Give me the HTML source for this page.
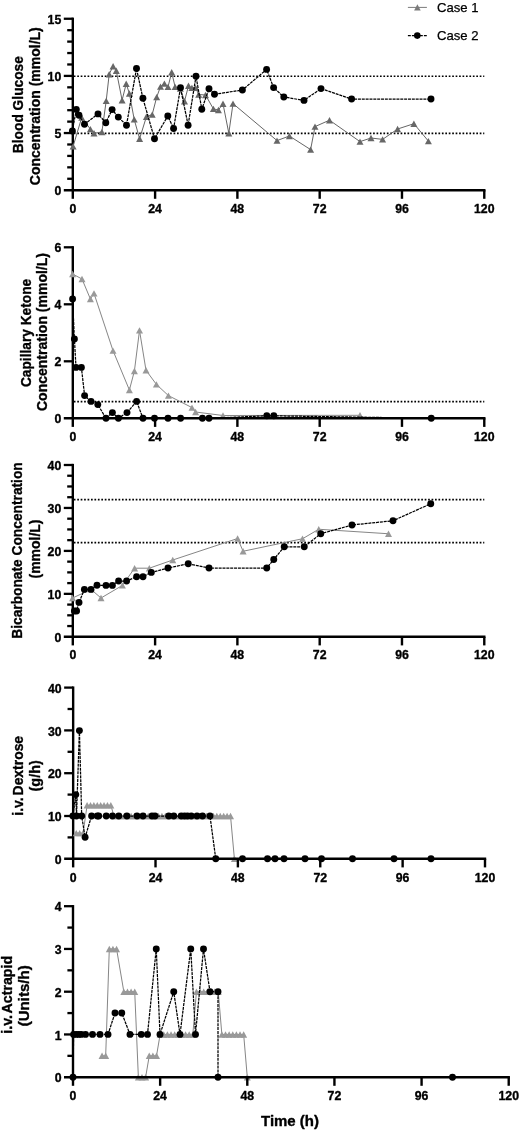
<!DOCTYPE html>
<html lang="en">
<head>
<meta charset="utf-8">
<title>Figure</title>
<style>
html,body{margin:0;padding:0;background:#fff;}
body{width:520px;height:1131px;overflow:hidden;}
svg{display:block;}
svg text{font-family:"Liberation Sans", sans-serif;fill:#000;}
svg text.b{stroke:#000;stroke-width:0.35px;stroke-linejoin:round;}
</style>
</head>
<body>
<svg width="520" height="1131" viewBox="0 0 520 1131">
<rect width="520" height="1131" fill="#fff"/>
<g>
<line x1="73.8" y1="76.25" x2="484.28" y2="76.25" stroke="#000" stroke-width="1.7" stroke-dasharray="1.7 1.74" fill="none"/>
<line x1="73.8" y1="133.4" x2="484.28" y2="133.4" stroke="#000" stroke-width="1.7" stroke-dasharray="1.7 1.74" fill="none"/>
<line x1="72.8" y1="17.6" x2="72.8" y2="190.2" stroke="#000" stroke-width="2.4"/><text x="61.3" y="195.35" text-anchor="end" font-size="12.3" class="b" font-weight="700">0</text><line x1="63.8" y1="133.05" x2="72.8" y2="133.05" stroke="#000" stroke-width="2.3"/><text x="61.3" y="138.2" text-anchor="end" font-size="12.3" class="b" font-weight="700">5</text><line x1="63.8" y1="75.9" x2="72.8" y2="75.9" stroke="#000" stroke-width="2.3"/><text x="61.3" y="81.05" text-anchor="end" font-size="12.3" class="b" font-weight="700">10</text><line x1="63.8" y1="18.75" x2="72.8" y2="18.75" stroke="#000" stroke-width="2.3"/><text x="61.3" y="23.9" text-anchor="end" font-size="12.3" class="b" font-weight="700">15</text><line x1="67.2" y1="178.77" x2="72.8" y2="178.77" stroke="#000" stroke-width="2.3"/><line x1="67.2" y1="167.34" x2="72.8" y2="167.34" stroke="#000" stroke-width="2.3"/><line x1="67.2" y1="155.91" x2="72.8" y2="155.91" stroke="#000" stroke-width="2.3"/><line x1="67.2" y1="144.48" x2="72.8" y2="144.48" stroke="#000" stroke-width="2.3"/><line x1="67.2" y1="121.62" x2="72.8" y2="121.62" stroke="#000" stroke-width="2.3"/><line x1="67.2" y1="110.19" x2="72.8" y2="110.19" stroke="#000" stroke-width="2.3"/><line x1="67.2" y1="98.76" x2="72.8" y2="98.76" stroke="#000" stroke-width="2.3"/><line x1="67.2" y1="87.33" x2="72.8" y2="87.33" stroke="#000" stroke-width="2.3"/><line x1="67.2" y1="64.47" x2="72.8" y2="64.47" stroke="#000" stroke-width="2.3"/><line x1="67.2" y1="53.04" x2="72.8" y2="53.04" stroke="#000" stroke-width="2.3"/><line x1="67.2" y1="41.61" x2="72.8" y2="41.61" stroke="#000" stroke-width="2.3"/><line x1="67.2" y1="30.18" x2="72.8" y2="30.18" stroke="#000" stroke-width="2.3"/>
<polyline points="73.1,146.4 81.7,117.6 90.4,129.1 94,133.3 101.9,132 106.2,100.9 109.2,74.2 113.1,66.2 116.3,70.8 122.1,100.2 126.2,83.8 129.4,93.5 134.2,119.4 139.6,138.7 146.4,116.8 152.2,114.6 156.7,97.1 160.5,86.6 164.4,83.6 168,86.9 171.7,72.3 175.1,86.9 180.3,88.5 184.5,101.2 188.5,85.8 191.9,87.9 195.7,87.9 198.7,94.5 205.5,95 213.4,108.9 218.4,110 223,103.8 228.8,133.2 233,103.6 277,140.6 289.4,136 310.6,149.6 315,126.6 329.5,120.2 360,141.6 371,138 382.6,139.4 397.6,129 413.9,123.7 428.4,141.1" fill="none" stroke="#666" stroke-width="1.0" stroke-linejoin="round"/><path d="M73.1 143.2L76.6 149.6L69.6 149.6Z" fill="#676767"/><path d="M81.7 114.4L85.2 120.8L78.2 120.8Z" fill="#676767"/><path d="M90.4 125.9L93.9 132.3L86.9 132.3Z" fill="#676767"/><path d="M94 130.1L97.5 136.5L90.5 136.5Z" fill="#676767"/><path d="M101.9 128.8L105.4 135.2L98.4 135.2Z" fill="#676767"/><path d="M106.2 97.7L109.7 104.1L102.7 104.1Z" fill="#676767"/><path d="M109.2 71L112.7 77.4L105.7 77.4Z" fill="#676767"/><path d="M113.1 63L116.6 69.4L109.6 69.4Z" fill="#676767"/><path d="M116.3 67.6L119.8 74L112.8 74Z" fill="#676767"/><path d="M122.1 97L125.6 103.4L118.6 103.4Z" fill="#676767"/><path d="M126.2 80.6L129.7 87L122.7 87Z" fill="#676767"/><path d="M129.4 90.3L132.9 96.7L125.9 96.7Z" fill="#676767"/><path d="M134.2 116.2L137.7 122.6L130.7 122.6Z" fill="#676767"/><path d="M139.6 135.5L143.1 141.9L136.1 141.9Z" fill="#676767"/><path d="M146.4 113.6L149.9 120L142.9 120Z" fill="#676767"/><path d="M152.2 111.4L155.7 117.8L148.7 117.8Z" fill="#676767"/><path d="M156.7 93.9L160.2 100.3L153.2 100.3Z" fill="#676767"/><path d="M160.5 83.4L164 89.8L157 89.8Z" fill="#676767"/><path d="M164.4 80.4L167.9 86.8L160.9 86.8Z" fill="#676767"/><path d="M168 83.7L171.5 90.1L164.5 90.1Z" fill="#676767"/><path d="M171.7 69.1L175.2 75.5L168.2 75.5Z" fill="#676767"/><path d="M175.1 83.7L178.6 90.1L171.6 90.1Z" fill="#676767"/><path d="M180.3 85.3L183.8 91.7L176.8 91.7Z" fill="#676767"/><path d="M184.5 98L188 104.4L181 104.4Z" fill="#676767"/><path d="M188.5 82.6L192 89L185 89Z" fill="#676767"/><path d="M191.9 84.7L195.4 91.1L188.4 91.1Z" fill="#676767"/><path d="M195.7 84.7L199.2 91.1L192.2 91.1Z" fill="#676767"/><path d="M198.7 91.3L202.2 97.7L195.2 97.7Z" fill="#676767"/><path d="M205.5 91.8L209 98.2L202 98.2Z" fill="#676767"/><path d="M213.4 105.7L216.9 112.1L209.9 112.1Z" fill="#676767"/><path d="M218.4 106.8L221.9 113.2L214.9 113.2Z" fill="#676767"/><path d="M223 100.6L226.5 107L219.5 107Z" fill="#676767"/><path d="M228.8 130L232.3 136.4L225.3 136.4Z" fill="#676767"/><path d="M233 100.4L236.5 106.8L229.5 106.8Z" fill="#676767"/><path d="M277 137.4L280.5 143.8L273.5 143.8Z" fill="#676767"/><path d="M289.4 132.8L292.9 139.2L285.9 139.2Z" fill="#676767"/><path d="M310.6 146.4L314.1 152.8L307.1 152.8Z" fill="#676767"/><path d="M315 123.4L318.5 129.8L311.5 129.8Z" fill="#676767"/><path d="M329.5 117L333 123.4L326 123.4Z" fill="#676767"/><path d="M360 138.4L363.5 144.8L356.5 144.8Z" fill="#676767"/><path d="M371 134.8L374.5 141.2L367.5 141.2Z" fill="#676767"/><path d="M382.6 136.2L386.1 142.6L379.1 142.6Z" fill="#676767"/><path d="M397.6 125.8L401.1 132.2L394.1 132.2Z" fill="#676767"/><path d="M413.9 120.5L417.4 126.9L410.4 126.9Z" fill="#676767"/><path d="M428.4 137.9L431.9 144.3L424.9 144.3Z" fill="#676767"/>
<line x1="63.8" y1="190.2" x2="485.48" y2="190.2" stroke="#000" stroke-width="2.4"/><line x1="72.8" y1="190.2" x2="72.8" y2="198.8" stroke="#000" stroke-width="2.4"/><text x="72.8" y="213.2" text-anchor="middle" font-size="12.3" class="b" font-weight="700">0</text><line x1="155.1" y1="190.2" x2="155.1" y2="198.8" stroke="#000" stroke-width="2.4"/><text x="155.1" y="213.2" text-anchor="middle" font-size="12.3" class="b" font-weight="700">24</text><line x1="237.39" y1="190.2" x2="237.39" y2="198.8" stroke="#000" stroke-width="2.4"/><text x="237.39" y="213.2" text-anchor="middle" font-size="12.3" class="b" font-weight="700">48</text><line x1="319.69" y1="190.2" x2="319.69" y2="198.8" stroke="#000" stroke-width="2.4"/><text x="319.69" y="213.2" text-anchor="middle" font-size="12.3" class="b" font-weight="700">72</text><line x1="401.98" y1="190.2" x2="401.98" y2="198.8" stroke="#000" stroke-width="2.4"/><text x="401.98" y="213.2" text-anchor="middle" font-size="12.3" class="b" font-weight="700">96</text><line x1="484.28" y1="190.2" x2="484.28" y2="198.8" stroke="#000" stroke-width="2.4"/><text x="484.28" y="213.2" text-anchor="middle" font-size="12.3" class="b" font-weight="700">120</text>
<polyline points="72.4,131 76.3,109.5 79,115.2 84.5,124.3 98,113.9 105.8,122.8 112.1,109.6 118.3,117.1 126.5,125.2 136.5,68.5 142.9,98.3 154.5,138.8 167.8,116 173.6,128.5 180.5,87.8 188.1,125.2 196,76.3 201.8,109.3 209,88.8 214.5,94.3 242.4,90 266.6,69.4 273.6,87.6 283.8,97 304,100.4 321,88.6 351.6,99 431,99" fill="none" stroke="#000" stroke-width="1.25" stroke-dasharray="3 0.85" stroke-linejoin="round"/><circle cx="72.4" cy="131" r="3.45" fill="#000"/><circle cx="76.3" cy="109.5" r="3.45" fill="#000"/><circle cx="79" cy="115.2" r="3.45" fill="#000"/><circle cx="84.5" cy="124.3" r="3.45" fill="#000"/><circle cx="98" cy="113.9" r="3.45" fill="#000"/><circle cx="105.8" cy="122.8" r="3.45" fill="#000"/><circle cx="112.1" cy="109.6" r="3.45" fill="#000"/><circle cx="118.3" cy="117.1" r="3.45" fill="#000"/><circle cx="126.5" cy="125.2" r="3.45" fill="#000"/><circle cx="136.5" cy="68.5" r="3.45" fill="#000"/><circle cx="142.9" cy="98.3" r="3.45" fill="#000"/><circle cx="154.5" cy="138.8" r="3.45" fill="#000"/><circle cx="167.8" cy="116" r="3.45" fill="#000"/><circle cx="173.6" cy="128.5" r="3.45" fill="#000"/><circle cx="180.5" cy="87.8" r="3.45" fill="#000"/><circle cx="188.1" cy="125.2" r="3.45" fill="#000"/><circle cx="196" cy="76.3" r="3.45" fill="#000"/><circle cx="201.8" cy="109.3" r="3.45" fill="#000"/><circle cx="209" cy="88.8" r="3.45" fill="#000"/><circle cx="214.5" cy="94.3" r="3.45" fill="#000"/><circle cx="242.4" cy="90" r="3.45" fill="#000"/><circle cx="266.6" cy="69.4" r="3.45" fill="#000"/><circle cx="273.6" cy="87.6" r="3.45" fill="#000"/><circle cx="283.8" cy="97" r="3.45" fill="#000"/><circle cx="304" cy="100.4" r="3.45" fill="#000"/><circle cx="321" cy="88.6" r="3.45" fill="#000"/><circle cx="351.6" cy="99" r="3.45" fill="#000"/><circle cx="431" cy="99" r="3.45" fill="#000"/>
<text transform="translate(23.15 104.65) rotate(-90)" text-anchor="middle" font-size="15.0" class="b" font-weight="700" textLength="97.1" lengthAdjust="spacingAndGlyphs">Blood Glucose</text><text transform="translate(40 106.2) rotate(-90)" text-anchor="middle" font-size="15.0" class="b" font-weight="700" textLength="158" lengthAdjust="spacingAndGlyphs">Concentration (mmol/L)</text>
<line x1="407.9" y1="7.4" x2="426.9" y2="7.4" stroke="#7a7a7a" stroke-width="1"/>
<path d="M417.4 4.3L420.7 10.5L414.1 10.5Z" fill="#7a7a7a"/>
<text x="437" y="11.8" font-size="13.1" stroke="#000" stroke-width="0.25">Case 1</text>
<line x1="407.9" y1="35.6" x2="426.9" y2="35.6" stroke="#000" stroke-width="1.25" stroke-dasharray="2.9 1.1"/>
<circle cx="417.3" cy="35.6" r="3.3" fill="#000"/>
<text x="437" y="40.2" font-size="13.1" stroke="#000" stroke-width="0.25">Case 2</text>
</g>
<g>
<line x1="73.8" y1="401.55" x2="484.28" y2="401.55" stroke="#000" stroke-width="1.7" stroke-dasharray="1.7 1.74" fill="none"/>
<line x1="72.8" y1="246.15" x2="72.8" y2="418.3" stroke="#000" stroke-width="2.4"/><text x="61.3" y="423.45" text-anchor="end" font-size="12.3" class="b" font-weight="700">0</text><line x1="63.8" y1="361.3" x2="72.8" y2="361.3" stroke="#000" stroke-width="2.3"/><text x="61.3" y="366.45" text-anchor="end" font-size="12.3" class="b" font-weight="700">2</text><line x1="63.8" y1="304.3" x2="72.8" y2="304.3" stroke="#000" stroke-width="2.3"/><text x="61.3" y="309.45" text-anchor="end" font-size="12.3" class="b" font-weight="700">4</text><line x1="63.8" y1="247.3" x2="72.8" y2="247.3" stroke="#000" stroke-width="2.3"/><text x="61.3" y="252.45" text-anchor="end" font-size="12.3" class="b" font-weight="700">6</text>
<polyline points="72.6,274 82,279 90.4,299 94,293.4 113,350.6 129.4,390 134.4,371 139.5,330.4 146,370.3 156.4,384.4 168.4,395.6 192,407.6 195.6,412 223,415.5 360,415.3" fill="none" stroke="#868686" stroke-width="1.0" stroke-linejoin="round"/><path d="M72.6 270.8L76.1 277.2L69.1 277.2Z" fill="#999"/><path d="M82 275.8L85.5 282.2L78.5 282.2Z" fill="#999"/><path d="M90.4 295.8L93.9 302.2L86.9 302.2Z" fill="#999"/><path d="M94 290.2L97.5 296.6L90.5 296.6Z" fill="#999"/><path d="M113 347.4L116.5 353.8L109.5 353.8Z" fill="#999"/><path d="M129.4 386.8L132.9 393.2L125.9 393.2Z" fill="#999"/><path d="M134.4 367.8L137.9 374.2L130.9 374.2Z" fill="#999"/><path d="M139.5 327.2L143 333.6L136 333.6Z" fill="#999"/><path d="M146 367.1L149.5 373.5L142.5 373.5Z" fill="#999"/><path d="M156.4 381.2L159.9 387.6L152.9 387.6Z" fill="#999"/><path d="M168.4 392.4L171.9 398.8L164.9 398.8Z" fill="#999"/><path d="M192 404.4L195.5 410.8L188.5 410.8Z" fill="#999"/><path d="M195.6 408.8L199.1 415.2L192.1 415.2Z" fill="#999"/><path d="M223 412.3L226.5 418.7L219.5 418.7Z" fill="#999"/><path d="M360 412.1L363.5 418.5L356.5 418.5Z" fill="#999"/>
<line x1="63.8" y1="418.3" x2="485.48" y2="418.3" stroke="#000" stroke-width="2.4"/><line x1="72.8" y1="418.3" x2="72.8" y2="426.9" stroke="#000" stroke-width="2.4"/><text x="72.8" y="441.3" text-anchor="middle" font-size="12.3" class="b" font-weight="700">0</text><line x1="155.1" y1="418.3" x2="155.1" y2="426.9" stroke="#000" stroke-width="2.4"/><text x="155.1" y="441.3" text-anchor="middle" font-size="12.3" class="b" font-weight="700">24</text><line x1="237.39" y1="418.3" x2="237.39" y2="426.9" stroke="#000" stroke-width="2.4"/><text x="237.39" y="441.3" text-anchor="middle" font-size="12.3" class="b" font-weight="700">48</text><line x1="319.69" y1="418.3" x2="319.69" y2="426.9" stroke="#000" stroke-width="2.4"/><text x="319.69" y="441.3" text-anchor="middle" font-size="12.3" class="b" font-weight="700">72</text><line x1="401.98" y1="418.3" x2="401.98" y2="426.9" stroke="#000" stroke-width="2.4"/><text x="401.98" y="441.3" text-anchor="middle" font-size="12.3" class="b" font-weight="700">96</text><line x1="484.28" y1="418.3" x2="484.28" y2="426.9" stroke="#000" stroke-width="2.4"/><text x="484.28" y="441.3" text-anchor="middle" font-size="12.3" class="b" font-weight="700">120</text>
<polyline points="72.6,299 74.4,339 76,367.4 81.4,367.4 84.6,395.6 91,401.4 97.8,404.6 106,418.3 112.4,412.6 118.4,418.3 127,412.6 136.6,401.4 143,418.3 154.5,418.3 168,418.3 180.6,418.3 202.4,418.3 209,418.3 266.8,415.8 273.8,415.8 431.25,418.3" fill="none" stroke="#000" stroke-width="1.25" stroke-dasharray="3 0.85" stroke-linejoin="round"/><circle cx="72.6" cy="299" r="3.45" fill="#000"/><circle cx="74.4" cy="339" r="3.45" fill="#000"/><circle cx="76" cy="367.4" r="3.45" fill="#000"/><circle cx="81.4" cy="367.4" r="3.45" fill="#000"/><circle cx="84.6" cy="395.6" r="3.45" fill="#000"/><circle cx="91" cy="401.4" r="3.45" fill="#000"/><circle cx="97.8" cy="404.6" r="3.45" fill="#000"/><circle cx="106" cy="418.3" r="3.45" fill="#000"/><circle cx="112.4" cy="412.6" r="3.45" fill="#000"/><circle cx="118.4" cy="418.3" r="3.45" fill="#000"/><circle cx="127" cy="412.6" r="3.45" fill="#000"/><circle cx="136.6" cy="401.4" r="3.45" fill="#000"/><circle cx="143" cy="418.3" r="3.45" fill="#000"/><circle cx="154.5" cy="418.3" r="3.45" fill="#000"/><circle cx="168" cy="418.3" r="3.45" fill="#000"/><circle cx="180.6" cy="418.3" r="3.45" fill="#000"/><circle cx="202.4" cy="418.3" r="3.45" fill="#000"/><circle cx="209" cy="418.3" r="3.45" fill="#000"/><circle cx="266.8" cy="415.8" r="3.45" fill="#000"/><circle cx="273.8" cy="415.8" r="3.45" fill="#000"/><circle cx="431.25" cy="418.3" r="3.45" fill="#000"/>
<text transform="translate(30.6 332.95) rotate(-90)" text-anchor="middle" font-size="15.0" class="b" font-weight="700" textLength="108.3" lengthAdjust="spacingAndGlyphs">Capillary Ketone</text><text transform="translate(47.4 332) rotate(-90)" text-anchor="middle" font-size="15.0" class="b" font-weight="700" textLength="158" lengthAdjust="spacingAndGlyphs">Concentration (mmol/L)</text>
</g>
<g>
<line x1="73.8" y1="499.71" x2="484.28" y2="499.71" stroke="#000" stroke-width="1.7" stroke-dasharray="1.7 1.74" fill="none"/>
<line x1="73.8" y1="542.66" x2="484.28" y2="542.66" stroke="#000" stroke-width="1.7" stroke-dasharray="1.7 1.74" fill="none"/>
<line x1="72.8" y1="463.85" x2="72.8" y2="636.8" stroke="#000" stroke-width="2.4"/><text x="61.3" y="641.95" text-anchor="end" font-size="12.3" class="b" font-weight="700">0</text><line x1="63.8" y1="593.85" x2="72.8" y2="593.85" stroke="#000" stroke-width="2.3"/><text x="61.3" y="599" text-anchor="end" font-size="12.3" class="b" font-weight="700">10</text><line x1="63.8" y1="550.9" x2="72.8" y2="550.9" stroke="#000" stroke-width="2.3"/><text x="61.3" y="556.05" text-anchor="end" font-size="12.3" class="b" font-weight="700">20</text><line x1="63.8" y1="507.95" x2="72.8" y2="507.95" stroke="#000" stroke-width="2.3"/><text x="61.3" y="513.1" text-anchor="end" font-size="12.3" class="b" font-weight="700">30</text><line x1="63.8" y1="465" x2="72.8" y2="465" stroke="#000" stroke-width="2.3"/><text x="61.3" y="470.15" text-anchor="end" font-size="12.3" class="b" font-weight="700">40</text><line x1="67.2" y1="626.06" x2="72.8" y2="626.06" stroke="#000" stroke-width="2.3"/><line x1="67.2" y1="615.32" x2="72.8" y2="615.32" stroke="#000" stroke-width="2.3"/><line x1="67.2" y1="604.59" x2="72.8" y2="604.59" stroke="#000" stroke-width="2.3"/><line x1="67.2" y1="583.11" x2="72.8" y2="583.11" stroke="#000" stroke-width="2.3"/><line x1="67.2" y1="572.38" x2="72.8" y2="572.38" stroke="#000" stroke-width="2.3"/><line x1="67.2" y1="561.64" x2="72.8" y2="561.64" stroke="#000" stroke-width="2.3"/><line x1="67.2" y1="540.16" x2="72.8" y2="540.16" stroke="#000" stroke-width="2.3"/><line x1="67.2" y1="529.42" x2="72.8" y2="529.42" stroke="#000" stroke-width="2.3"/><line x1="67.2" y1="518.69" x2="72.8" y2="518.69" stroke="#000" stroke-width="2.3"/><line x1="67.2" y1="497.21" x2="72.8" y2="497.21" stroke="#000" stroke-width="2.3"/><line x1="67.2" y1="486.47" x2="72.8" y2="486.47" stroke="#000" stroke-width="2.3"/><line x1="67.2" y1="475.74" x2="72.8" y2="475.74" stroke="#000" stroke-width="2.3"/>
<polyline points="72.6,598 91,589.4 101,598 122.4,585.4 134.6,568.2 149.3,568.2 172.75,560 237.6,538.5 243.1,551.25 302.5,538.75 318.75,529.25 388.5,533.75" fill="none" stroke="#868686" stroke-width="1.0" stroke-linejoin="round"/><path d="M72.6 594.8L76.1 601.2L69.1 601.2Z" fill="#999"/><path d="M91 586.2L94.5 592.6L87.5 592.6Z" fill="#999"/><path d="M101 594.8L104.5 601.2L97.5 601.2Z" fill="#999"/><path d="M122.4 582.2L125.9 588.6L118.9 588.6Z" fill="#999"/><path d="M134.6 565L138.1 571.4L131.1 571.4Z" fill="#999"/><path d="M149.3 565L152.8 571.4L145.8 571.4Z" fill="#999"/><path d="M172.75 556.8L176.25 563.2L169.25 563.2Z" fill="#999"/><path d="M237.6 535.3L241.1 541.7L234.1 541.7Z" fill="#999"/><path d="M243.1 548.05L246.6 554.45L239.6 554.45Z" fill="#999"/><path d="M302.5 535.55L306 541.95L299 541.95Z" fill="#999"/><path d="M318.75 526.05L322.25 532.45L315.25 532.45Z" fill="#999"/><path d="M388.5 530.55L392 536.95L385 536.95Z" fill="#999"/>
<line x1="63.8" y1="636.8" x2="485.48" y2="636.8" stroke="#000" stroke-width="2.4"/><line x1="72.8" y1="636.8" x2="72.8" y2="645.4" stroke="#000" stroke-width="2.4"/><text x="72.8" y="659.1" text-anchor="middle" font-size="12.3" class="b" font-weight="700">0</text><line x1="155.1" y1="636.8" x2="155.1" y2="645.4" stroke="#000" stroke-width="2.4"/><text x="155.1" y="659.1" text-anchor="middle" font-size="12.3" class="b" font-weight="700">24</text><line x1="237.39" y1="636.8" x2="237.39" y2="645.4" stroke="#000" stroke-width="2.4"/><text x="237.39" y="659.1" text-anchor="middle" font-size="12.3" class="b" font-weight="700">48</text><line x1="319.69" y1="636.8" x2="319.69" y2="645.4" stroke="#000" stroke-width="2.4"/><text x="319.69" y="659.1" text-anchor="middle" font-size="12.3" class="b" font-weight="700">72</text><line x1="401.98" y1="636.8" x2="401.98" y2="645.4" stroke="#000" stroke-width="2.4"/><text x="401.98" y="659.1" text-anchor="middle" font-size="12.3" class="b" font-weight="700">96</text><line x1="484.28" y1="636.8" x2="484.28" y2="645.4" stroke="#000" stroke-width="2.4"/><text x="484.28" y="659.1" text-anchor="middle" font-size="12.3" class="b" font-weight="700">120</text>
<polyline points="74.4,611 76.6,611 79,602.4 84.4,589.4 91,589.4 97,585.2 106,585.4 112.4,585.4 118.6,581 126.6,581 136.6,576.7 143,576.7 151.3,572.4 168,568 188.25,563.75 209,568 266.75,568 273.75,559.5 284.25,546.75 304.25,546.75 320.75,533.75 352,525 393,520.75 430.75,503.75" fill="none" stroke="#000" stroke-width="1.25" stroke-dasharray="3 0.85" stroke-linejoin="round"/><circle cx="74.4" cy="611" r="3.45" fill="#000"/><circle cx="76.6" cy="611" r="3.45" fill="#000"/><circle cx="79" cy="602.4" r="3.45" fill="#000"/><circle cx="84.4" cy="589.4" r="3.45" fill="#000"/><circle cx="91" cy="589.4" r="3.45" fill="#000"/><circle cx="97" cy="585.2" r="3.45" fill="#000"/><circle cx="106" cy="585.4" r="3.45" fill="#000"/><circle cx="112.4" cy="585.4" r="3.45" fill="#000"/><circle cx="118.6" cy="581" r="3.45" fill="#000"/><circle cx="126.6" cy="581" r="3.45" fill="#000"/><circle cx="136.6" cy="576.7" r="3.45" fill="#000"/><circle cx="143" cy="576.7" r="3.45" fill="#000"/><circle cx="151.3" cy="572.4" r="3.45" fill="#000"/><circle cx="168" cy="568" r="3.45" fill="#000"/><circle cx="188.25" cy="563.75" r="3.45" fill="#000"/><circle cx="209" cy="568" r="3.45" fill="#000"/><circle cx="266.75" cy="568" r="3.45" fill="#000"/><circle cx="273.75" cy="559.5" r="3.45" fill="#000"/><circle cx="284.25" cy="546.75" r="3.45" fill="#000"/><circle cx="304.25" cy="546.75" r="3.45" fill="#000"/><circle cx="320.75" cy="533.75" r="3.45" fill="#000"/><circle cx="352" cy="525" r="3.45" fill="#000"/><circle cx="393" cy="520.75" r="3.45" fill="#000"/><circle cx="430.75" cy="503.75" r="3.45" fill="#000"/>
<text transform="translate(22.2 550.5) rotate(-90)" text-anchor="middle" font-size="15.0" class="b" font-weight="700" textLength="176.5" lengthAdjust="spacingAndGlyphs">Bicarbonate Concentration</text><text transform="translate(40 549) rotate(-90)" text-anchor="middle" font-size="15.0" class="b" font-weight="700" textLength="58.9" lengthAdjust="spacingAndGlyphs">(mmol/L)</text>
</g>
<g>
<line x1="73.15" y1="686.45" x2="73.15" y2="858.8" stroke="#000" stroke-width="2.4"/><text x="61.65" y="863.95" text-anchor="end" font-size="12.3" class="b" font-weight="700">0</text><line x1="64.15" y1="816" x2="73.15" y2="816" stroke="#000" stroke-width="2.3"/><text x="61.65" y="821.15" text-anchor="end" font-size="12.3" class="b" font-weight="700">10</text><line x1="64.15" y1="773.2" x2="73.15" y2="773.2" stroke="#000" stroke-width="2.3"/><text x="61.65" y="778.35" text-anchor="end" font-size="12.3" class="b" font-weight="700">20</text><line x1="64.15" y1="730.4" x2="73.15" y2="730.4" stroke="#000" stroke-width="2.3"/><text x="61.65" y="735.55" text-anchor="end" font-size="12.3" class="b" font-weight="700">30</text><line x1="64.15" y1="687.6" x2="73.15" y2="687.6" stroke="#000" stroke-width="2.3"/><text x="61.65" y="692.75" text-anchor="end" font-size="12.3" class="b" font-weight="700">40</text><line x1="67.55" y1="837.4" x2="73.15" y2="837.4" stroke="#000" stroke-width="2.3"/><line x1="67.55" y1="794.6" x2="73.15" y2="794.6" stroke="#000" stroke-width="2.3"/><line x1="67.55" y1="751.8" x2="73.15" y2="751.8" stroke="#000" stroke-width="2.3"/><line x1="67.55" y1="709" x2="73.15" y2="709" stroke="#000" stroke-width="2.3"/>
<polyline points="76.23,833.12 79.66,833.12 83.09,833.12 87.1,805.3 90.49,805.3 93.88,805.3 97.27,805.3 100.66,805.3 104.05,805.3 107.44,805.3 110.83,805.3 113.95,816 117.38,816 120.81,816 124.23,816 127.66,816 131.09,816 134.52,816 137.95,816 141.38,816 144.81,816 148.24,816 151.67,816 155.1,816 158.52,816 161.95,816 165.38,816 168.81,816 172.24,816 175.67,816 179.1,816 182.53,816 185.96,816 189.39,816 192.81,816 196.24,816 199.67,816 203.1,816 206.53,816 209.96,816 213.39,816 216.82,816 220.25,816 223.68,816 227.1,816 230.53,816 234.4,858.8" fill="none" stroke="#868686" stroke-width="1.0" stroke-linejoin="round"/><path d="M76.23 829.92L79.73 836.32L72.73 836.32Z" fill="#999"/><path d="M79.66 829.92L83.16 836.32L76.16 836.32Z" fill="#999"/><path d="M83.09 829.92L86.59 836.32L79.59 836.32Z" fill="#999"/><path d="M87.1 802.1L90.6 808.5L83.6 808.5Z" fill="#999"/><path d="M90.49 802.1L93.99 808.5L86.99 808.5Z" fill="#999"/><path d="M93.88 802.1L97.38 808.5L90.38 808.5Z" fill="#999"/><path d="M97.27 802.1L100.77 808.5L93.77 808.5Z" fill="#999"/><path d="M100.66 802.1L104.16 808.5L97.16 808.5Z" fill="#999"/><path d="M104.05 802.1L107.55 808.5L100.55 808.5Z" fill="#999"/><path d="M107.44 802.1L110.94 808.5L103.94 808.5Z" fill="#999"/><path d="M110.83 802.1L114.33 808.5L107.33 808.5Z" fill="#999"/><path d="M113.95 812.8L117.45 819.2L110.45 819.2Z" fill="#999"/><path d="M117.38 812.8L120.88 819.2L113.88 819.2Z" fill="#999"/><path d="M120.81 812.8L124.31 819.2L117.31 819.2Z" fill="#999"/><path d="M124.23 812.8L127.73 819.2L120.73 819.2Z" fill="#999"/><path d="M127.66 812.8L131.16 819.2L124.16 819.2Z" fill="#999"/><path d="M131.09 812.8L134.59 819.2L127.59 819.2Z" fill="#999"/><path d="M134.52 812.8L138.02 819.2L131.02 819.2Z" fill="#999"/><path d="M137.95 812.8L141.45 819.2L134.45 819.2Z" fill="#999"/><path d="M141.38 812.8L144.88 819.2L137.88 819.2Z" fill="#999"/><path d="M144.81 812.8L148.31 819.2L141.31 819.2Z" fill="#999"/><path d="M148.24 812.8L151.74 819.2L144.74 819.2Z" fill="#999"/><path d="M151.67 812.8L155.17 819.2L148.17 819.2Z" fill="#999"/><path d="M155.1 812.8L158.6 819.2L151.6 819.2Z" fill="#999"/><path d="M158.52 812.8L162.02 819.2L155.02 819.2Z" fill="#999"/><path d="M161.95 812.8L165.45 819.2L158.45 819.2Z" fill="#999"/><path d="M165.38 812.8L168.88 819.2L161.88 819.2Z" fill="#999"/><path d="M168.81 812.8L172.31 819.2L165.31 819.2Z" fill="#999"/><path d="M172.24 812.8L175.74 819.2L168.74 819.2Z" fill="#999"/><path d="M175.67 812.8L179.17 819.2L172.17 819.2Z" fill="#999"/><path d="M179.1 812.8L182.6 819.2L175.6 819.2Z" fill="#999"/><path d="M182.53 812.8L186.03 819.2L179.03 819.2Z" fill="#999"/><path d="M185.96 812.8L189.46 819.2L182.46 819.2Z" fill="#999"/><path d="M189.39 812.8L192.89 819.2L185.89 819.2Z" fill="#999"/><path d="M192.81 812.8L196.31 819.2L189.31 819.2Z" fill="#999"/><path d="M196.24 812.8L199.74 819.2L192.74 819.2Z" fill="#999"/><path d="M199.67 812.8L203.17 819.2L196.17 819.2Z" fill="#999"/><path d="M203.1 812.8L206.6 819.2L199.6 819.2Z" fill="#999"/><path d="M206.53 812.8L210.03 819.2L203.03 819.2Z" fill="#999"/><path d="M209.96 812.8L213.46 819.2L206.46 819.2Z" fill="#999"/><path d="M213.39 812.8L216.89 819.2L209.89 819.2Z" fill="#999"/><path d="M216.82 812.8L220.32 819.2L213.32 819.2Z" fill="#999"/><path d="M220.25 812.8L223.75 819.2L216.75 819.2Z" fill="#999"/><path d="M223.68 812.8L227.18 819.2L220.18 819.2Z" fill="#999"/><path d="M227.1 812.8L230.6 819.2L223.6 819.2Z" fill="#999"/><path d="M230.53 812.8L234.03 819.2L227.03 819.2Z" fill="#999"/><path d="M234.4 855.6L237.9 862L230.9 862Z" fill="#999"/>
<line x1="64.15" y1="858.8" x2="486.2" y2="858.8" stroke="#000" stroke-width="2.4"/><line x1="73.15" y1="858.8" x2="73.15" y2="867.4" stroke="#000" stroke-width="2.4"/><text x="73.15" y="881.8" text-anchor="middle" font-size="12.3" class="b" font-weight="700">0</text><line x1="155.52" y1="858.8" x2="155.52" y2="867.4" stroke="#000" stroke-width="2.4"/><text x="155.52" y="881.8" text-anchor="middle" font-size="12.3" class="b" font-weight="700">24</text><line x1="237.89" y1="858.8" x2="237.89" y2="867.4" stroke="#000" stroke-width="2.4"/><text x="237.89" y="881.8" text-anchor="middle" font-size="12.3" class="b" font-weight="700">48</text><line x1="320.26" y1="858.8" x2="320.26" y2="867.4" stroke="#000" stroke-width="2.4"/><text x="320.26" y="881.8" text-anchor="middle" font-size="12.3" class="b" font-weight="700">72</text><line x1="402.63" y1="858.8" x2="402.63" y2="867.4" stroke="#000" stroke-width="2.4"/><text x="402.63" y="881.8" text-anchor="middle" font-size="12.3" class="b" font-weight="700">96</text><line x1="485" y1="858.8" x2="485" y2="867.4" stroke="#000" stroke-width="2.4"/><text x="485" y="881.8" text-anchor="middle" font-size="12.3" class="b" font-weight="700">120</text>
<polyline points="72.9,816 75.8,794.6 76.5,816 79.4,730.6 81.7,816 85.1,837.3 91.6,816 97.3,816 98.7,816 106.25,816 112.5,816 118.75,816 126.9,816 137,816 143,816 152,816 155,816 168.75,816 173.75,816 181.25,816 184.5,816 187.5,816 191.25,816 197,816 202.5,816 210,816 215.75,858.8 242.5,858.8 267.5,858.8 275,858.8 284,858.8 305,858.8 321.5,858.8 352.5,858.8 394,858.8 431,858.8" fill="none" stroke="#000" stroke-width="1.25" stroke-dasharray="3 0.85" stroke-linejoin="round"/><circle cx="72.9" cy="816" r="3.45" fill="#000"/><circle cx="75.8" cy="794.6" r="3.45" fill="#000"/><circle cx="76.5" cy="816" r="3.45" fill="#000"/><circle cx="79.4" cy="730.6" r="3.45" fill="#000"/><circle cx="81.7" cy="816" r="3.45" fill="#000"/><circle cx="85.1" cy="837.3" r="3.45" fill="#000"/><circle cx="91.6" cy="816" r="3.45" fill="#000"/><circle cx="97.3" cy="816" r="3.45" fill="#000"/><circle cx="98.7" cy="816" r="3.45" fill="#000"/><circle cx="106.25" cy="816" r="3.45" fill="#000"/><circle cx="112.5" cy="816" r="3.45" fill="#000"/><circle cx="118.75" cy="816" r="3.45" fill="#000"/><circle cx="126.9" cy="816" r="3.45" fill="#000"/><circle cx="137" cy="816" r="3.45" fill="#000"/><circle cx="143" cy="816" r="3.45" fill="#000"/><circle cx="152" cy="816" r="3.45" fill="#000"/><circle cx="155" cy="816" r="3.45" fill="#000"/><circle cx="168.75" cy="816" r="3.45" fill="#000"/><circle cx="173.75" cy="816" r="3.45" fill="#000"/><circle cx="181.25" cy="816" r="3.45" fill="#000"/><circle cx="184.5" cy="816" r="3.45" fill="#000"/><circle cx="187.5" cy="816" r="3.45" fill="#000"/><circle cx="191.25" cy="816" r="3.45" fill="#000"/><circle cx="197" cy="816" r="3.45" fill="#000"/><circle cx="202.5" cy="816" r="3.45" fill="#000"/><circle cx="210" cy="816" r="3.45" fill="#000"/><circle cx="215.75" cy="858.8" r="3.45" fill="#000"/><circle cx="242.5" cy="858.8" r="3.45" fill="#000"/><circle cx="267.5" cy="858.8" r="3.45" fill="#000"/><circle cx="275" cy="858.8" r="3.45" fill="#000"/><circle cx="284" cy="858.8" r="3.45" fill="#000"/><circle cx="305" cy="858.8" r="3.45" fill="#000"/><circle cx="321.5" cy="858.8" r="3.45" fill="#000"/><circle cx="352.5" cy="858.8" r="3.45" fill="#000"/><circle cx="394" cy="858.8" r="3.45" fill="#000"/><circle cx="431" cy="858.8" r="3.45" fill="#000"/>
<text transform="translate(23.4 775.8) rotate(-90)" text-anchor="middle" font-size="15.0" class="b" font-weight="700" textLength="79.8" lengthAdjust="spacingAndGlyphs" word-spacing="-2">i.v. Dextrose</text><text transform="translate(40 775.8) rotate(-90)" text-anchor="middle" font-size="15.0" class="b" font-weight="700" textLength="31.3" lengthAdjust="spacingAndGlyphs">(g/h)</text>
</g>
<g>
<line x1="73" y1="905.05" x2="73" y2="1077.2" stroke="#000" stroke-width="2.4"/><text x="61.5" y="1082.35" text-anchor="end" font-size="12.3" class="b" font-weight="700">0</text><line x1="64" y1="1034.45" x2="73" y2="1034.45" stroke="#000" stroke-width="2.3"/><text x="61.5" y="1039.6" text-anchor="end" font-size="12.3" class="b" font-weight="700">1</text><line x1="64" y1="991.7" x2="73" y2="991.7" stroke="#000" stroke-width="2.3"/><text x="61.5" y="996.85" text-anchor="end" font-size="12.3" class="b" font-weight="700">2</text><line x1="64" y1="948.95" x2="73" y2="948.95" stroke="#000" stroke-width="2.3"/><text x="61.5" y="954.1" text-anchor="end" font-size="12.3" class="b" font-weight="700">3</text><line x1="64" y1="906.2" x2="73" y2="906.2" stroke="#000" stroke-width="2.3"/><text x="61.5" y="911.35" text-anchor="end" font-size="12.3" class="b" font-weight="700">4</text><line x1="67.4" y1="1055.83" x2="73" y2="1055.83" stroke="#000" stroke-width="2.3"/><line x1="67.4" y1="1013.08" x2="73" y2="1013.08" stroke="#000" stroke-width="2.3"/><line x1="67.4" y1="970.33" x2="73" y2="970.33" stroke="#000" stroke-width="2.3"/><line x1="67.4" y1="927.58" x2="73" y2="927.58" stroke="#000" stroke-width="2.3"/>
<polyline points="102.05,1055.83 105.68,1055.83 109.31,948.95 112.94,948.95 116.57,948.95 123.83,991.7 127.47,991.7 131.1,991.7 134.73,991.7 138.36,1077.2 141.99,1077.2 145.62,1077.2 149.25,1055.83 152.88,1055.83 156.51,1055.83 160.14,1034.45 163.77,1034.45 167.41,1034.45 171.04,1034.45 174.67,1034.45 178.3,1034.45 181.93,1034.45 185.56,1034.45 189.19,1034.45 192.82,1034.45 196.45,991.7 200.08,991.7 203.72,991.7 207.35,991.7 210.98,991.7 214.61,991.7 218.24,991.7 221.87,1034.45 225.5,1034.45 229.13,1034.45 232.76,1034.45 236.39,1034.45 240.03,1034.45 243.66,1034.45 247.29,1077.2" fill="none" stroke="#868686" stroke-width="1.0" stroke-linejoin="round"/><path d="M102.05 1052.62L105.55 1059.03L98.55 1059.03Z" fill="#999"/><path d="M105.68 1052.62L109.18 1059.03L102.18 1059.03Z" fill="#999"/><path d="M109.31 945.75L112.81 952.15L105.81 952.15Z" fill="#999"/><path d="M112.94 945.75L116.44 952.15L109.44 952.15Z" fill="#999"/><path d="M116.57 945.75L120.07 952.15L113.07 952.15Z" fill="#999"/><path d="M123.83 988.5L127.33 994.9L120.33 994.9Z" fill="#999"/><path d="M127.47 988.5L130.97 994.9L123.97 994.9Z" fill="#999"/><path d="M131.1 988.5L134.6 994.9L127.6 994.9Z" fill="#999"/><path d="M134.73 988.5L138.23 994.9L131.23 994.9Z" fill="#999"/><path d="M138.36 1074L141.86 1080.4L134.86 1080.4Z" fill="#999"/><path d="M141.99 1074L145.49 1080.4L138.49 1080.4Z" fill="#999"/><path d="M145.62 1074L149.12 1080.4L142.12 1080.4Z" fill="#999"/><path d="M149.25 1052.62L152.75 1059.03L145.75 1059.03Z" fill="#999"/><path d="M152.88 1052.62L156.38 1059.03L149.38 1059.03Z" fill="#999"/><path d="M156.51 1052.62L160.01 1059.03L153.01 1059.03Z" fill="#999"/><path d="M160.14 1031.25L163.64 1037.65L156.64 1037.65Z" fill="#999"/><path d="M163.77 1031.25L167.27 1037.65L160.27 1037.65Z" fill="#999"/><path d="M167.41 1031.25L170.91 1037.65L163.91 1037.65Z" fill="#999"/><path d="M171.04 1031.25L174.54 1037.65L167.54 1037.65Z" fill="#999"/><path d="M174.67 1031.25L178.17 1037.65L171.17 1037.65Z" fill="#999"/><path d="M178.3 1031.25L181.8 1037.65L174.8 1037.65Z" fill="#999"/><path d="M181.93 1031.25L185.43 1037.65L178.43 1037.65Z" fill="#999"/><path d="M185.56 1031.25L189.06 1037.65L182.06 1037.65Z" fill="#999"/><path d="M189.19 1031.25L192.69 1037.65L185.69 1037.65Z" fill="#999"/><path d="M192.82 1031.25L196.32 1037.65L189.32 1037.65Z" fill="#999"/><path d="M196.45 988.5L199.95 994.9L192.95 994.9Z" fill="#999"/><path d="M200.08 988.5L203.58 994.9L196.58 994.9Z" fill="#999"/><path d="M203.72 988.5L207.22 994.9L200.22 994.9Z" fill="#999"/><path d="M207.35 988.5L210.85 994.9L203.85 994.9Z" fill="#999"/><path d="M210.98 988.5L214.48 994.9L207.48 994.9Z" fill="#999"/><path d="M214.61 988.5L218.11 994.9L211.11 994.9Z" fill="#999"/><path d="M218.24 988.5L221.74 994.9L214.74 994.9Z" fill="#999"/><path d="M221.87 1031.25L225.37 1037.65L218.37 1037.65Z" fill="#999"/><path d="M225.5 1031.25L229 1037.65L222 1037.65Z" fill="#999"/><path d="M229.13 1031.25L232.63 1037.65L225.63 1037.65Z" fill="#999"/><path d="M232.76 1031.25L236.26 1037.65L229.26 1037.65Z" fill="#999"/><path d="M236.39 1031.25L239.89 1037.65L232.89 1037.65Z" fill="#999"/><path d="M240.03 1031.25L243.53 1037.65L236.53 1037.65Z" fill="#999"/><path d="M243.66 1031.25L247.16 1037.65L240.16 1037.65Z" fill="#999"/><path d="M247.29 1074L250.79 1080.4L243.79 1080.4Z" fill="#999"/>
<line x1="64" y1="1077.2" x2="509.92" y2="1077.2" stroke="#000" stroke-width="2.4"/><line x1="73" y1="1077.2" x2="73" y2="1085.8" stroke="#000" stroke-width="2.4"/><text x="73" y="1100" text-anchor="middle" font-size="12.3" class="b" font-weight="700">0</text><line x1="160.14" y1="1077.2" x2="160.14" y2="1085.8" stroke="#000" stroke-width="2.4"/><text x="160.14" y="1100" text-anchor="middle" font-size="12.3" class="b" font-weight="700">24</text><line x1="247.29" y1="1077.2" x2="247.29" y2="1085.8" stroke="#000" stroke-width="2.4"/><text x="247.29" y="1100" text-anchor="middle" font-size="12.3" class="b" font-weight="700">48</text><line x1="334.43" y1="1077.2" x2="334.43" y2="1085.8" stroke="#000" stroke-width="2.4"/><text x="334.43" y="1100" text-anchor="middle" font-size="12.3" class="b" font-weight="700">72</text><line x1="421.58" y1="1077.2" x2="421.58" y2="1085.8" stroke="#000" stroke-width="2.4"/><text x="421.58" y="1100" text-anchor="middle" font-size="12.3" class="b" font-weight="700">96</text><line x1="508.72" y1="1077.2" x2="508.72" y2="1085.8" stroke="#000" stroke-width="2.4"/><text x="508.72" y="1100" text-anchor="middle" font-size="12.3" class="b" font-weight="700">120</text>
<polyline points="73,1077.2 73.6,1034.4 76.25,1034.4 78.75,1034.4 81.25,1034.4 85.5,1034.4 92.5,1034.4 100,1034.4 108,1034.4 115,1013 121.75,1013 130,1034.4 141.25,1034.4 147.5,1034.4 156.25,948.9 160,1034.4 173.75,991.7 180,1034.4 190.75,948.9 195.5,1034.4 203.5,948.9 210,991.7 218,991.7 218,1077.2 452.5,1077.2" fill="none" stroke="#000" stroke-width="1.25" stroke-dasharray="3 0.85" stroke-linejoin="round"/><circle cx="73" cy="1077.2" r="3.45" fill="#000"/><circle cx="73.6" cy="1034.4" r="3.45" fill="#000"/><circle cx="76.25" cy="1034.4" r="3.45" fill="#000"/><circle cx="78.75" cy="1034.4" r="3.45" fill="#000"/><circle cx="81.25" cy="1034.4" r="3.45" fill="#000"/><circle cx="85.5" cy="1034.4" r="3.45" fill="#000"/><circle cx="92.5" cy="1034.4" r="3.45" fill="#000"/><circle cx="100" cy="1034.4" r="3.45" fill="#000"/><circle cx="108" cy="1034.4" r="3.45" fill="#000"/><circle cx="115" cy="1013" r="3.45" fill="#000"/><circle cx="121.75" cy="1013" r="3.45" fill="#000"/><circle cx="130" cy="1034.4" r="3.45" fill="#000"/><circle cx="141.25" cy="1034.4" r="3.45" fill="#000"/><circle cx="147.5" cy="1034.4" r="3.45" fill="#000"/><circle cx="156.25" cy="948.9" r="3.45" fill="#000"/><circle cx="160" cy="1034.4" r="3.45" fill="#000"/><circle cx="173.75" cy="991.7" r="3.45" fill="#000"/><circle cx="180" cy="1034.4" r="3.45" fill="#000"/><circle cx="190.75" cy="948.9" r="3.45" fill="#000"/><circle cx="195.5" cy="1034.4" r="3.45" fill="#000"/><circle cx="203.5" cy="948.9" r="3.45" fill="#000"/><circle cx="210" cy="991.7" r="3.45" fill="#000"/><circle cx="218" cy="991.7" r="3.45" fill="#000"/><circle cx="218" cy="1077.2" r="3.45" fill="#000"/><circle cx="452.5" cy="1077.2" r="3.45" fill="#000"/>
<text transform="translate(12.4 994.8) rotate(-90)" text-anchor="middle" font-size="15.0" class="b" font-weight="700" textLength="77.8" lengthAdjust="spacingAndGlyphs" word-spacing="-2">i.v. Actrapid</text><text transform="translate(29 995.8) rotate(-90)" text-anchor="middle" font-size="15.0" class="b" font-weight="700" textLength="60.9" lengthAdjust="spacingAndGlyphs">(Units/h)</text>
<text x="290" y="1125.8" text-anchor="middle" font-size="14.3" class="b" font-weight="700" textLength="58" lengthAdjust="spacingAndGlyphs">Time (h)</text>
</g>
</svg>
</body>
</html>
